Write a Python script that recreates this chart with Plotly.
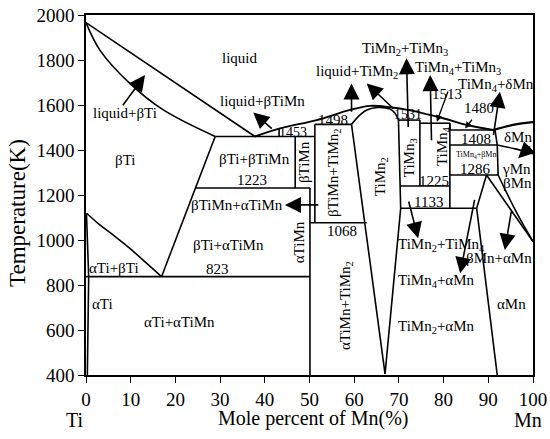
import plotly.graph_objects as go

# Ti-Mn phase diagram
# x = mole percent of Mn, t = temperature (K)

ti_liquidus_x = [0, 37.8]
ti_liquidus_t = [1966, 1460]

ti_solidus_x = [0, 3.1, 9.8, 17.3, 28.9]
ti_solidus_t = [1966, 1844, 1696, 1578, 1460]

beta_transus_x = [28.9, 16.9]
beta_transus_t = [1460, 837]

alpha_beta_x = [0.15, 3.1, 6.1, 9.8, 13.6, 16.9]
alpha_beta_t = [1119, 1067, 1022, 963, 896, 837]

alpha_ti_x = [0.1, 0.6, 0.3]
alpha_ti_t = [1119, 837, 400]

liquidus_x = [37.8, 43.4, 51.6, 59.1, 63.5, 68.0, 72.5, 79.9, 85.2, 91.1]
liquidus_t = [1460, 1496, 1533, 1578, 1596, 1590, 1576, 1541, 1511, 1489]

mn_liquidus_x = [91.1, 96.4, 100]
mn_liquidus_t = [1489, 1515, 1524]

timn2_dome_x = [59.4, 61.3, 62.8, 65.3, 68.0, 69.1, 69.9]
timn2_dome_t = [1514, 1556, 1578, 1589, 1582, 1564, 1533]

timn2_left_x = [59.4, 66.9]
timn2_left_t = [1514, 405]

timn2_right_x = [69.9, 70.4, 66.9]
timn2_right_t = [1533, 1141, 405]

alpha_mn_x = [89.6, 87.4, 92.0]
alpha_mn_t = [1289, 1141, 400]

beta_mn_a_x = [89.6, 100]
beta_mn_a_t = [1289, 993]

beta_mn_b_x = [92.2, 96.4, 100]
beta_mn_b_t = [1289, 1119, 993]

delta_gamma_x = [92.0, 96.0, 100]
delta_gamma_t = [1422, 1405, 1383]

box_right_x = [91.5, 92.0, 92.2]
box_right_t = [1489, 1422, 1289]

# horizontal isotherms: temperature, from x, to x
iso_t = [1460, 1231, 837, 1514, 1077, 1533, 1519, 1240, 1141, 1489, 1422, 1289]
iso_x0 = [28.9, 24.5, 0, 51.2, 50.1, 69.9, 74.7, 70.4, 70.4, 81.4, 81.4, 81.4]
iso_x1 = [51.2, 50.1, 50.1, 59.4, 62.8, 74.7, 81.4, 81.4, 87.4, 91.5, 92.0, 92.2]

# vertical boundaries: composition, from t, to t
vert_x = [46.8, 50.1, 51.2, 43.2, 74.7, 81.4, 81.4]
vert_t0 = [1231, 400, 1077, 1460, 1240, 1141, 1489]
vert_t1 = [1460, 1231, 1514, 1497, 1533, 1519, 1519]

# arrows: head and tail
arrow_head_x = [13.2, 37.4, 59.4, 62.8, 71.7, 77.0, 92.6, 96.7, 44.5, 74.3, 83.7, 93.7]
arrow_head_t = [1733, 1567, 1696, 1696, 1808, 1733, 1659, 1363, 1156, 1008, 852, 956]
arrow_tail_x = [8.0, 41.9, 59.4, 69.1, 72.1, 77.3, 91.1, 99.7, 52.3, 72.1, 87.0, 95.2]
arrow_tail_t = [1592, 1489, 1563, 1578, 1496, 1437, 1459, 1422, 1156, 1178, 1185, 1133]

# small leader arrows for 1513 and 1480
leader_head_x = [78.5, 84.8]
leader_head_t = [1526, 1496]
leader_tail_x = [81.1, 86.6]
leader_tail_t = [1667, 1541]

label_text = [
    "liquid", "liquid+βTi", "liquid+βTiMn", "βTi", "βTi+βTiMn", "1223",
    "1498", "TiMn<sub>2</sub>+TiMn<sub>3</sub>", "liquid+TiMn<sub>2</sub>",
    "TiMn<sub>4</sub>+TiMn<sub>3</sub>", "TiMn<sub>4</sub>+δMn", "1513", "1480",
    "1408", "δMn", "1286", "γMn", "βMn", "1225", "1133",
    "βTiMn+αTiMn", "βTi+αTiMn", "αTi+βTi", "823", "αTi", "αTi+αTiMn",
    "1068", "TiMn<sub>2</sub>+TiMn<sub>4</sub>", "βMn+αMn",
    "TiMn<sub>4</sub>+αMn", "αMn", "TiMn<sub>2</sub>+αMn",
]
label_x = [34.5, 8.7, 39.4, 8.7, 37.6, 37.1,
           55.3, 71.4, 60.6,
           83.2, 91.7, 80.8, 87.9,
           87.2, 96.6, 87.2, 96.4, 96.6, 77.9, 76.7,
           33.8, 31.8, 6.3, 29.5, 3.6, 21.0,
           57.3, 79.6, 92.4,
           78.5, 95.3, 78.5]
label_t = [1811, 1564, 1618, 1356, 1360, 1267,
           1533, 1849, 1747,
           1764, 1689, 1649, 1587,
           1449, 1458, 1316, 1316, 1253, 1262, 1169,
           1156, 978, 876, 871, 716, 636,
           1040, 978, 920,
           818, 716, 613]

small_text = ["1453", "1531"]
small_x = [46.4, 72.1]
small_t = [1480, 1556]

rot_text = ["βTiMn", "βTiMn+TiMn<sub>2</sub>", "TiMn<sub>2</sub>", "TiMn<sub>3</sub>",
            "TiMn<sub>4</sub>", "αTiMn", "αTiMn+TiMn<sub>2</sub>"]
rot_x = [48.8, 55.5, 66.0, 72.5, 79.9, 47.7, 58.2]
rot_t = [1347, 1298, 1280, 1364, 1418, 991, 707]

x_ticks = list(range(0, 101, 10))
t_ticks = list(range(400, 2001, 200))

FONT = "Liberation Serif, Times New Roman, serif"

fig = go.Figure()


def add_line(xs, ts, width=1.6, smooth=False):
    fig.add_trace(go.Scatter(x=xs, y=ts, mode="lines",
                             line=dict(color="black", width=width,
                                       shape="spline" if smooth else "linear"),
                             showlegend=False, hoverinfo="skip"))


straight = [
    (ti_liquidus_x, ti_liquidus_t), (beta_transus_x, beta_transus_t),
    (alpha_ti_x, alpha_ti_t), (timn2_left_x, timn2_left_t),
    (timn2_right_x, timn2_right_t), (alpha_mn_x, alpha_mn_t),
    (beta_mn_a_x, beta_mn_a_t), (box_right_x, box_right_t),
]
curved = [
    (ti_solidus_x, ti_solidus_t), (alpha_beta_x, alpha_beta_t),
    (timn2_dome_x, timn2_dome_t), (beta_mn_b_x, beta_mn_b_t),
    (delta_gamma_x, delta_gamma_t),
]
for xs, ts in straight:
    add_line(xs, ts)
for xs, ts in curved:
    add_line(xs, ts, smooth=True)
add_line(liquidus_x, liquidus_t, 1.9, smooth=True)
add_line(mn_liquidus_x, mn_liquidus_t, 2.2, smooth=True)

for t, x0, x1 in zip(iso_t, iso_x0, iso_x1):
    add_line([x0, x1], [t, t])
for x, t0, t1 in zip(vert_x, vert_t0, vert_t1):
    add_line([x, x], [t0, t1])

for hx, ht, tx, tt in zip(arrow_head_x, arrow_head_t, arrow_tail_x, arrow_tail_t):
    fig.add_annotation(x=hx, y=ht, ax=tx, ay=tt, xref="x", yref="y",
                       axref="x", ayref="y", text="", showarrow=True,
                       arrowhead=2, arrowsize=2, arrowwidth=1.6, arrowcolor="black")
for hx, ht, tx, tt in zip(leader_head_x, leader_head_t, leader_tail_x, leader_tail_t):
    fig.add_annotation(x=hx, y=ht, ax=tx, ay=tt, xref="x", yref="y",
                       axref="x", ayref="y", text="", showarrow=True,
                       arrowhead=2, arrowsize=1, arrowwidth=1.3, arrowcolor="black")

for txt, x, t in zip(label_text, label_x, label_t):
    fig.add_annotation(x=x, y=t, text=txt, showarrow=False,
                       font=dict(family=FONT, size=15, color="black"))
for txt, x, t in zip(small_text, small_x, small_t):
    fig.add_annotation(x=x, y=t, text=txt, showarrow=False,
                       font=dict(family=FONT, size=14, color="black"))
for txt, x, t in zip(rot_text, rot_x, rot_t):
    fig.add_annotation(x=x, y=t, text=txt, showarrow=False, textangle=-90,
                       font=dict(family=FONT, size=15, color="black"))
fig.add_annotation(x=87.2, y=1378, text="TiMn<sub>4</sub>+βMn", showarrow=False,
                   font=dict(family=FONT, size=8, color="black"))

# axis titles and end-member names (data-referenced so they never push margins)
outer = dict(showarrow=False, xanchor="center", yanchor="middle")
fig.add_annotation(x=50.8, y=400, yshift=-43, text="Mole percent of Mn(%)",
                   font=dict(family=FONT, size=20, color="black"), **outer)
fig.add_annotation(x=0, y=400, xshift=-11, yshift=-45, text="Ti",
                   font=dict(family=FONT, size=20, color="black"), **outer)
fig.add_annotation(x=100, y=400, xshift=-5, yshift=-45, text="Mn",
                   font=dict(family=FONT, size=20, color="black"), **outer)
fig.add_annotation(x=0, y=1120, xshift=-69, text="Temperature(K)", textangle=-90,
                   font=dict(family=FONT, size=23, color="black"), **outer)

axis_common = dict(showgrid=False, zeroline=False, showline=True, linecolor="black",
                   linewidth=1.6, mirror=True, ticks="outside", ticklen=6,
                   tickwidth=1.4, tickcolor="black", automargin=False,
                   tickfont=dict(family=FONT, size=19, color="black"))
fig.update_xaxes(range=[0, 100], tickvals=x_ticks, **axis_common)
fig.update_yaxes(range=[400, 2000], tickvals=t_ticks, **axis_common)

fig.update_layout(width=550, height=439, margin=dict(l=86, r=17, t=15, b=64),
                  paper_bgcolor="white", plot_bgcolor="white")

# the page body has a default 8px margin that pushes the fixed-size figure off
fig.write_html("out.html", config={"displayModeBar": False},
               post_script="document.body.style.margin='0';"
                           "document.body.style.overflow='hidden';")
